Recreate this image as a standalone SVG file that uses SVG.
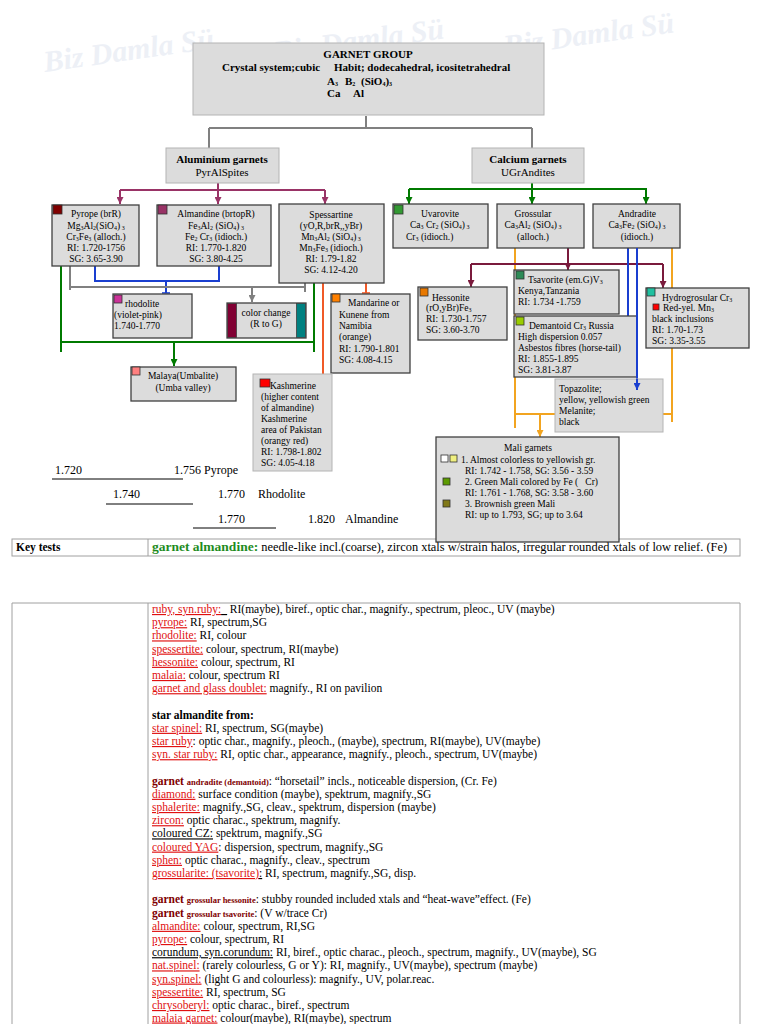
<svg xmlns="http://www.w3.org/2000/svg" width="768" height="1024" viewBox="0 0 768 1024">
<defs>
<style>
text{font-family:"Liberation Serif","Times New Roman",serif;fill:#000}
.t{font-size:9.5px}
.c{text-anchor:middle}
.hb{font-size:11px;font-weight:bold}
.h{font-size:11px}
.sc{font-size:12px}
.sb{font-size:6px}
.l{font-size:11.5px}
.r{fill:#e01010;text-decoration:underline}
.u{text-decoration:underline}
.dr{fill:#800000;font-weight:bold}
.drs{fill:#800000;font-weight:bold;font-size:8.5px}
.bx{fill:#dcdcdc;stroke:#404040;stroke-width:1.3}
.bl{fill:#dcdcdc;stroke:#b4b4b4;stroke-width:1}
.sq{stroke:#303030;stroke-width:0.8}
.wm{font-family:"Liberation Serif",serif;font-style:italic;font-weight:bold;font-size:30px;fill:#edf0f6}
.ln{fill:none;stroke-width:2}
.tb{fill:none;stroke:#a0a0a0;stroke-width:1}
</style>
<marker id="aP" viewBox="0 0 8 8" refX="8" refY="4" markerWidth="7" markerHeight="7" markerUnits="userSpaceOnUse" orient="auto"><path d="M0,0 L8,4 L0,8 z" fill="#993366"/></marker>
<marker id="aG" viewBox="0 0 8 8" refX="8" refY="4" markerWidth="7" markerHeight="7" markerUnits="userSpaceOnUse" orient="auto"><path d="M0,0 L8,4 L0,8 z" fill="#007a00"/></marker>
<marker id="aM" viewBox="0 0 8 8" refX="8" refY="4" markerWidth="7" markerHeight="7" markerUnits="userSpaceOnUse" orient="auto"><path d="M0,0 L8,4 L0,8 z" fill="#7a1a3c"/></marker>
<marker id="aY" viewBox="0 0 8 8" refX="8" refY="4" markerWidth="7" markerHeight="7" markerUnits="userSpaceOnUse" orient="auto"><path d="M0,0 L8,4 L0,8 z" fill="#f2a420"/></marker>
<marker id="aB" viewBox="0 0 8 8" refX="8" refY="4" markerWidth="7" markerHeight="7" markerUnits="userSpaceOnUse" orient="auto"><path d="M0,0 L8,4 L0,8 z" fill="#1a3fd0"/></marker>
<marker id="aR" viewBox="0 0 8 8" refX="8" refY="4" markerWidth="7" markerHeight="7" markerUnits="userSpaceOnUse" orient="auto"><path d="M0,0 L8,4 L0,8 z" fill="#808080"/></marker>
<marker id="tB" viewBox="0 0 2 10" refX="1" refY="5" markerWidth="2" markerHeight="8" markerUnits="userSpaceOnUse" orient="auto"><rect width="2" height="10" fill="#1a3fd0"/></marker>
<marker id="tO" viewBox="0 0 2 10" refX="1" refY="5" markerWidth="2" markerHeight="8" markerUnits="userSpaceOnUse" orient="auto"><rect width="2" height="10" fill="#f05a28"/></marker>
</defs>
<rect width="768" height="1024" fill="#ffffff"/>

<g id="watermark">
<text class="wm" x="45" y="72" transform="rotate(-8 45 72)">Biz Damla Sü</text>
<text class="wm" x="275" y="62" transform="rotate(-8 275 62)">Biz Damla Sü</text>
<text class="wm" x="505" y="56" transform="rotate(-8 505 56)">Biz Damla Sü</text>
</g>

<g id="connectors">
<path class="ln" stroke="#808080" d="M366,116 V128 M209,128 H532 M209,128 V148 M532,128 V148"/>
<path class="ln" stroke="#993366" d="M218,183 V190 M120,190 H325"/>
<path class="ln" stroke="#993366" marker-end="url(#aP)" d="M120,190 V204"/>
<path class="ln" stroke="#993366" marker-end="url(#aP)" d="M218,190 V204"/>
<path class="ln" stroke="#993366" marker-end="url(#aP)" d="M325,190 V204"/>
<path class="ln" stroke="#007a00" d="M532,183 V189 M409,189 H647"/>
<path class="ln" stroke="#007a00" marker-end="url(#aG)" d="M409,189 V204"/>
<path class="ln" stroke="#007a00" marker-end="url(#aG)" d="M532,189 V204"/>
<path class="ln" stroke="#007a00" marker-end="url(#aG)" d="M646,189 V204"/>
<path class="ln" stroke="#1a3fd0" d="M95,266 V281 H219 V266"/>
<path class="ln" stroke="#1a3fd0" marker-end="url(#tB)" d="M166,281 V293"/>
<path class="ln" stroke="#808080" d="M70,266 V290 M70,287 H305 M305,281 V292"/>
<path class="ln" stroke="#808080" marker-end="url(#aR)" d="M252,287 V302"/>
<path class="ln" stroke="#007a00" stroke-width="2.5" d="M61,266 V352 M314,283 V352 M61,342 H314"/>
<path class="ln" stroke="#007a00" stroke-width="2.5" marker-end="url(#aG)" d="M174,342 V366"/>
<path class="ln" stroke="#f05a28" d="M323,283 V374"/>
<path class="ln" stroke="#f05a28" marker-end="url(#tO)" d="M366,283 V293"/>
<path class="ln" stroke="#f2a420" d="M515,248 V428 M672,248 V422 M515,414 H672"/>
<path class="ln" stroke="#f2a420" marker-end="url(#aY)" d="M540,414 V437"/>
<path class="ln" stroke="#7a1a3c" stroke-width="2.5" d="M568,248 V264 M471,264 H663"/>
<path class="ln" stroke="#7a1a3c" stroke-width="2.5" marker-end="url(#aM)" d="M471,264 V287"/>
<path class="ln" stroke="#7a1a3c" stroke-width="2.5" marker-end="url(#aM)" d="M568,264 V270"/>
<path class="ln" stroke="#7a1a3c" stroke-width="2.5" marker-end="url(#aM)" d="M663,264 V288"/>
<path class="ln" stroke="#1a3fd0" d="M628,248 V316"/>
</g>

<g id="garnet-group">
<rect class="bl" x="193" y="43" width="351" height="72" fill="#d9d9d9" stroke="#a8a8a8"/>
<text class="hb c" x="368" y="58">GARNET GROUP</text>
<text class="hb" x="222" y="71">Crystal system;cubic</text>
<text class="hb" x="334" y="71">Habit; dodecahedral, icositetrahedral</text>
<text class="hb" x="327" y="85">A<tspan class="sb" dy="1">3</tspan></text>
<text class="hb" x="345" y="85">B<tspan class="sb" dy="1">2</tspan></text>
<text class="hb" x="361" y="85">(SiO<tspan class="sb" dy="1">4</tspan><tspan dy="-1">)</tspan><tspan class="sb" dy="1">3</tspan></text>
<text class="hb" x="327" y="97">Ca</text>
<text class="hb" x="353" y="97">Al</text>
</g>

<g id="aluminium">
<rect class="bl" x="166" y="148" width="113" height="35"/>
<text class="hb c" x="222" y="163">Aluminium garnets</text>
<text class="h c" x="222" y="176">PyrAlSpites</text>
</g>

<g id="calcium">
<rect class="bl" x="472" y="148" width="112" height="35"/>
<text class="hb c" x="528" y="163">Calcium garnets</text>
<text class="h c" x="528" y="176">UGrAndites</text>
</g>

<g id="pyrope">
<rect class="bx" x="52" y="205" width="87" height="61"/>
<rect class="sq" x="53" y="205" width="9" height="9" fill="#800000"/>
<text class="t c" x="96" y="217">Pyrope (brR)</text>
<text class="t c" x="96" y="229">Mg<tspan class="sb" dy="1">3</tspan><tspan dy="-1">Al</tspan><tspan class="sb" dy="1">2</tspan><tspan dy="-1">(SiO</tspan><tspan class="sb" dy="1">4</tspan><tspan dy="-1">)</tspan><tspan class="sb" dy="1"> 3</tspan></text>
<text class="t c" x="96" y="240">Cr<tspan class="sb" dy="1">3</tspan><tspan dy="-1">Fe</tspan><tspan class="sb" dy="1">3</tspan><tspan dy="-1"> (alloch.)</tspan></text>
<text class="t c" x="96" y="251">RI: 1.720-1756</text>
<text class="t c" x="96" y="262">SG: 3.65-3.90</text>
</g>

<g id="almandine">
<rect class="bx" x="157" y="205" width="114" height="61"/>
<rect class="sq" x="158" y="205" width="9" height="9" fill="#993366"/>
<text class="t c" x="216" y="217">Almandine (brtopR)</text>
<text class="t c" x="216" y="229">Fe<tspan class="sb" dy="1">3</tspan><tspan dy="-1">Al</tspan><tspan class="sb" dy="1">2</tspan><tspan dy="-1"> (SiO</tspan><tspan class="sb" dy="1">4</tspan><tspan dy="-1">)</tspan><tspan class="sb" dy="1"> 3</tspan></text>
<text class="t c" x="216" y="240">Fe<tspan class="sb" dy="1">2</tspan><tspan dy="-1"> Cr</tspan><tspan class="sb" dy="1">3</tspan><tspan dy="-1"> (idioch.)</tspan></text>
<text class="t c" x="216" y="251">RI: 1.770-1.820</text>
<text class="t c" x="216" y="262">SG: 3.80-4.25</text>
</g>

<g id="spessartine">
<rect class="bx" x="279" y="204" width="105" height="79"/>
<text class="t c" x="331" y="218">Spessartine</text>
<text class="t c" x="331" y="229">(yO,R,brR,,yBr)</text>
<text class="t c" x="331" y="240">Mn<tspan class="sb" dy="1">3</tspan><tspan dy="-1">Al</tspan><tspan class="sb" dy="1">2</tspan><tspan dy="-1"> (SiO</tspan><tspan class="sb" dy="1">4</tspan><tspan dy="-1">)</tspan><tspan class="sb" dy="1"> 3</tspan></text>
<text class="t c" x="331" y="251">Mn<tspan class="sb" dy="1">3</tspan><tspan dy="-1">Fe</tspan><tspan class="sb" dy="1">3</tspan><tspan dy="-1"> (idioch.)</tspan></text>
<text class="t c" x="331" y="262">RI: 1.79-1.82</text>
<text class="t c" x="331" y="273">SG: 4.12-4.20</text>
</g>

<g id="uvarovite">
<rect class="bx" x="393" y="204" width="95" height="44"/>
<rect class="sq" x="394" y="205" width="9" height="9" fill="#339933"/>
<text class="t" x="421" y="217">Uvarovite</text>
<text class="t" x="410" y="228">Ca<tspan class="sb" dy="1">3</tspan><tspan dy="-1"> Cr</tspan><tspan class="sb" dy="1">2</tspan><tspan dy="-1"> (SiO</tspan><tspan class="sb" dy="1">4</tspan><tspan dy="-1">)</tspan><tspan class="sb" dy="1"> 3</tspan></text>
<text class="t" x="406" y="240">Cr<tspan class="sb" dy="1">3</tspan><tspan dy="-1"> (idioch.)</tspan></text>
</g>

<g id="grossular">
<rect class="bx" x="497" y="204" width="87" height="44"/>
<text class="t c" x="533" y="217">Grossular</text>
<text class="t c" x="533" y="228">Ca<tspan class="sb" dy="1">3</tspan><tspan dy="-1">Al</tspan><tspan class="sb" dy="1">2</tspan><tspan dy="-1"> (SiO</tspan><tspan class="sb" dy="1">4</tspan><tspan dy="-1">)</tspan><tspan class="sb" dy="1"> 3</tspan></text>
<text class="t c" x="533" y="240">(alloch.)</text>
</g>

<g id="andradite">
<rect class="bx" x="593" y="204" width="87" height="44"/>
<text class="t c" x="637" y="217">Andradite</text>
<text class="t c" x="637" y="228">Ca<tspan class="sb" dy="1">3</tspan><tspan dy="-1">Fe</tspan><tspan class="sb" dy="1">2</tspan><tspan dy="-1"> (SiO</tspan><tspan class="sb" dy="1">4</tspan><tspan dy="-1">)</tspan><tspan class="sb" dy="1"> 3</tspan></text>
<text class="t c" x="637" y="240">(idioch.)</text>
</g>

<g id="rhodolite">
<rect class="bx" x="113" y="294" width="79" height="44"/>
<rect class="sq" x="114" y="295" width="8" height="8" fill="#cc3399"/>
<text class="t" x="125" y="307">rhodolite</text>
<text class="t" x="114" y="318">(violet-pink)</text>
<text class="t" x="114" y="329">1.740-1.770</text>
</g>

<g id="color-change">
<rect class="bx" x="227" y="303" width="79" height="35"/>
<rect x="227.5" y="303.5" width="9" height="34" fill="#800033" stroke="#404040" stroke-width="0.8"/>
<rect x="296.5" y="303.5" width="9" height="34" fill="#008080" stroke="#404040" stroke-width="0.8"/>
<text class="t c" x="266" y="316">color change</text>
<text class="t c" x="266" y="327">(R to G)</text>
</g>

<g id="malaya">
<rect class="bx" x="131" y="367" width="105" height="34"/>
<rect class="sq" x="132" y="367" width="8" height="8" fill="#ff7f7f"/>
<text class="t c" x="183" y="379">Malaya(Umbalite)</text>
<text class="t c" x="183" y="391">(Umba valley)</text>
</g>

<g id="mandarine">
<rect class="bx" x="331" y="294" width="79" height="79"/>
<rect class="sq" x="332" y="294" width="8" height="8" fill="#ff8000"/>
<text class="t" x="348" y="306">Mandarine or</text>
<text class="t" x="339" y="318">Kunene from</text>
<text class="t" x="339" y="329">Namibia</text>
<text class="t" x="339" y="340">(orange)</text>
<text class="t" x="339" y="352">RI: 1.790-1.801</text>
<text class="t" x="339" y="363">SG: 4.08-4.15</text>
</g>

<g id="kashmerine">
<rect class="bl" x="253" y="374" width="79" height="97"/>
<rect class="sq" x="260" y="379" width="10" height="8" fill="#ff0000"/>
<text class="t" x="270" y="389">Kashmerine</text>
<text class="t" x="261" y="400">(higher content</text>
<text class="t" x="261" y="411">of almandine)</text>
<text class="t" x="261" y="422">Kashmerine</text>
<text class="t" x="261" y="433">area of Pakistan</text>
<text class="t" x="261" y="444">(orangy red)</text>
<text class="t" x="261" y="455">RI: 1.798-1.802</text>
<text class="t" x="261" y="466">SG: 4.05-4.18</text>
</g>

<g id="hessonite">
<rect class="bx" x="418" y="287" width="89" height="53"/>
<rect class="sq" x="420" y="288" width="8" height="8" fill="#e87800"/>
<text class="t" x="432" y="301">Hessonite</text>
<text class="t" x="426" y="311">(rO,yBr)Fe<tspan class="sb" dy="1">3</tspan></text>
<text class="t" x="426" y="322">RI: 1.730-1.757</text>
<text class="t" x="426" y="333">SG: 3.60-3.70</text>
</g>

<g id="tsavorite">
<rect class="bx" x="514" y="270" width="105" height="44"/>
<rect class="sq" x="516" y="271" width="8" height="8" fill="#2e8b57"/>
<text class="t" x="528" y="283">Tsavorite (em.G)V<tspan class="sb" dy="1">3</tspan></text>
<text class="t" x="518" y="294">Kenya,Tanzania</text>
<text class="t" x="518" y="305">RI: 1.734 -1.759</text>
</g>

<g id="demantoid">
<rect class="bx" x="514" y="316" width="123" height="61"/>
<rect class="sq" x="516" y="317" width="8" height="8" fill="#99cc00"/>
<text class="t" x="529" y="329">Demantoid Cr<tspan class="sb" dy="1">3</tspan><tspan dy="-1"> Russia</tspan></text>
<text class="t" x="518" y="340">High dispersion 0.057</text>
<text class="t" x="518" y="351">Asbestos fibres (horse-tail)</text>
<text class="t" x="518" y="362">RI: 1.855-1.895</text>
<text class="t" x="518" y="373">SG: 3.81-3.87</text>
</g>

<g id="hydrogrossular">
<rect class="bx" x="646" y="288" width="103" height="60"/>
<rect class="sq" x="647" y="288" width="8" height="8" fill="#20c0a0"/>
<text class="t" x="662" y="301">Hydrogrosular Cr<tspan class="sb" dy="1">3</tspan></text>
<rect class="sq" x="653" y="304" width="6" height="6" fill="#ff0000"/>
<text class="t" x="663" y="311">Red-yel. Mn<tspan class="sb" dy="1">3</tspan></text>
<text class="t" x="652" y="322">black inclusions</text>
<text class="t" x="652" y="333">RI: 1.70-1.73</text>
<text class="t" x="652" y="344">SG: 3.35-3.55</text>
</g>

<g id="connector-blue-topazolite">
<path class="ln" stroke="#1a3fd0" marker-end="url(#aB)" d="M637,248 V390"/>
</g>

<g id="topazolite">
<rect class="bl" x="555" y="379" width="108" height="53"/>
<text class="t" x="559" y="392">Topazolite;</text>
<text class="t" x="559" y="403">yellow, yellowish green</text>
<text class="t" x="559" y="414">Melanite;</text>
<text class="t" x="559" y="425">black</text>
<path class="ln" stroke="#1a3fd0" marker-end="url(#aB)" d="M637,379 V390"/>
</g>

<g id="ri-scale">
<text class="sc" x="55" y="474">1.720</text>
<text class="sc" x="174" y="474">1.756  Pyrope</text>
<line x1="52" y1="479" x2="183" y2="479" stroke="#000" stroke-width="1"/>
<text class="sc" x="113" y="498">1.740</text>
<text class="sc" x="218" y="498">1.770</text>
<text class="sc" x="258" y="498">Rhodolite</text>
<line x1="106" y1="504" x2="193" y2="504" stroke="#000" stroke-width="1"/>
<text class="sc" x="218" y="523">1.770</text>
<text class="sc" x="308" y="523">1.820</text>
<text class="sc" x="345" y="523">Almandine</text>
<line x1="193" y1="528" x2="276" y2="528" stroke="#000" stroke-width="1"/>
</g>

<g id="key-tests">
<rect class="tb" x="12" y="539" width="728" height="17"/>
<line class="tb" x1="148" y1="539" x2="148" y2="556"/>
<text x="16" y="551" font-size="11.5" font-weight="bold">Key tests</text>
<text x="152" y="551" font-size="12.4"><tspan fill="#1e8c1e" font-weight="bold" font-size="13.5">garnet almandine:</tspan> needle-like incl.(coarse), zircon xtals w/strain halos, irregular rounded xtals of low relief. (Fe)</text>
</g>

<g id="mali">
<rect class="bx" x="436" y="437" width="183" height="105"/>
<text class="t c" x="528" y="451">Mali garnets</text>
<rect class="sq" x="441" y="455" width="7" height="7" fill="#ffffff"/>
<rect class="sq" x="450" y="455" width="7" height="7" fill="#f0f080"/>
<text class="t" x="461" y="463" font-size="9.8">1. Almost colorless to yellowish gr.</text>
<text class="t" x="465" y="474">RI: 1.742 - 1.758, SG: 3.56 - 3.59</text>
<rect class="sq" x="443" y="478" width="7" height="7" fill="#5c9a00"/>
<text class="t" x="465" y="485" xml:space="preserve">2. Green Mali colored by Fe (   Cr)</text>
<text class="t" x="465" y="496">RI: 1.761 - 1.768, SG: 3.58 - 3.60</text>
<rect class="sq" x="443" y="500" width="7" height="7" fill="#807818"/>
<text class="t" x="465" y="507">3. Brownish green Mali</text>
<text class="t" x="465" y="518">RI: up to 1.793, SG; up to 3.64</text>
</g>

<g id="tests-table">
<path class="tb" d="M12,1030 V603 H740 V1030 M148,603 V1030"/>
<text class="l" x="152" y="613"><tspan class="r">ruby, syn.ruby:</tspan><tspan class="u">_</tspan> RI(maybe), biref., optic char., magnify., spectrum, pleoc., UV (maybe)</text>
<text class="l" x="152" y="626.2"><tspan class="r">pyrope:</tspan> RI, spectrum,SG</text>
<text class="l" x="152" y="639.4"><tspan class="r">rhodolite:</tspan> RI, colour</text>
<text class="l" x="152" y="652.6"><tspan class="r">spessertite:</tspan> colour, spectrum, RI(maybe)</text>
<text class="l" x="152" y="665.8"><tspan class="r">hessonite:</tspan> colour, spectrum, RI</text>
<text class="l" x="152" y="679"><tspan class="r">malaia:</tspan> colour, spectrum RI</text>
<text class="l" x="152" y="692.2"><tspan class="r">garnet and glass doublet:</tspan> magnify., RI on pavilion</text>
<text class="l" x="152" y="718.6" font-weight="bold">star almandite from:</text>
<text class="l" x="152" y="731.8"><tspan class="r">star spinel:</tspan> RI, spectrum, SG(maybe)</text>
<text class="l" x="152" y="745"><tspan class="r">star ruby</tspan>: optic char., magnify., pleoch., (maybe), spectrum, RI(maybe), UV(maybe)</text>
<text class="l" x="152" y="758.2"><tspan class="r">syn. star ruby:</tspan> RI, optic char., appearance, magnify., pleoch., spectrum, UV(maybe)</text>
<text class="l" x="152" y="784.6"><tspan class="dr">garnet</tspan> <tspan class="drs">andradite (demantoid)</tspan>: “horsetail”  incls., noticeable dispersion, (Cr. Fe)</text>
<text class="l" x="152" y="797.8"><tspan class="r">diamond:</tspan> surface condition (maybe), spektrum, magnify.,SG</text>
<text class="l" x="152" y="811"><tspan class="r">sphalerite:</tspan> magnify.,SG, cleav., spektrum, dispersion (maybe)</text>
<text class="l" x="152" y="824.2"><tspan class="r">zircon:</tspan> optic charac., spektrum, magnify.</text>
<text class="l" x="152" y="837.4"><tspan class="u">coloured CZ:</tspan> spektrum, magnify.,SG</text>
<text class="l" x="152" y="850.6"><tspan class="r">coloured YAG</tspan>: dispersion, spectrum, magnify.,SG</text>
<text class="l" x="152" y="863.8"><tspan class="r">sphen:</tspan> optic charac., magnify., cleav., spectrum</text>
<text class="l" x="152" y="877"><tspan class="r">grossularite: (tsavorite)</tspan><tspan class="u">:</tspan> RI, spectrum, magnify.,SG, disp.</text>
<text class="l" x="152" y="903.4"><tspan class="dr">garnet</tspan> <tspan class="drs">grossular hessonite</tspan>: stubby rounded included xtals and “heat-wave”effect. (Fe)</text>
<text class="l" x="152" y="916.6"><tspan class="dr">garnet</tspan> <tspan class="drs">grossular tsavorite</tspan>: (V  w/trace Cr)</text>
<text class="l" x="152" y="929.8"><tspan class="r">almandite:</tspan> colour, spectrum, RI,SG</text>
<text class="l" x="152" y="943"><tspan class="r">pyrope:</tspan> colour, spectrum, RI</text>
<text class="l" x="152" y="956.2"><tspan class="u">corundum, syn.corundum:</tspan> RI, biref., optic charac., pleoch., spectrum, magnify., UV(maybe), SG</text>
<text class="l" x="152" y="969.4"><tspan class="r">nat.spinel:</tspan> (rarely colourless, G or Y): RI, magnify., UV(maybe), spectrum (maybe)</text>
<text class="l" x="152" y="982.6"><tspan class="r">syn.spinel:</tspan> (light G and colourless): magnify., UV, polar.reac.</text>
<text class="l" x="152" y="995.8"><tspan class="r">spessertite:</tspan> RI, spectrum, SG</text>
<text class="l" x="152" y="1009"><tspan class="r">chrysoberyl:</tspan> optic charac., biref., spectrum</text>
<text class="l" x="152" y="1021.5"><tspan class="r">malaia garnet:</tspan> colour(maybe), RI(maybe), spectrum</text>
</g>
</svg>
